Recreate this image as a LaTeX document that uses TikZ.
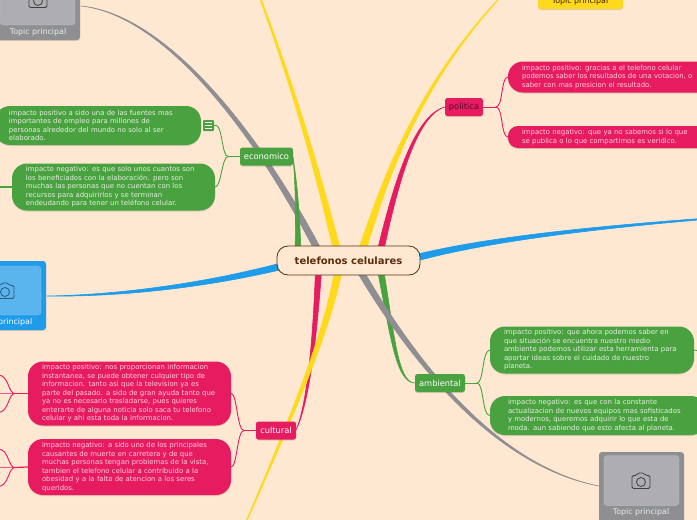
\documentclass[tikz,border=0pt]{standalone}
\usepackage{fontspec}
\setmainfont{DejaVu Sans}
\usetikzlibrary{calc,backgrounds}
\definecolor{bgc}{HTML}{FEE8D2}
\definecolor{gr}{HTML}{4AA13F}
\definecolor{pk}{HTML}{E71B5F}
\definecolor{ye}{HTML}{FFD91C}
\definecolor{bl}{HTML}{1E9BE9}
\definecolor{gy}{HTML}{8E8E93}
\definecolor{gyin}{HTML}{ADADB2}
\definecolor{blin}{HTML}{5AB4EE}
\definecolor{brn}{HTML}{5A2D0C}
\definecolor{grl}{HTML}{E4F1E2}
\definecolor{pkl}{HTML}{FFD0E0}
\definecolor{pkd}{HTML}{5A0A30}
\tikzset{
 shade1/.style={preaction={fill=black,opacity=.13,transform canvas={yshift=-1pt}}},
 mainb/.style={draw=brn,line width=.8pt,fill=bgc,rounded corners=11pt,minimum width=143pt,minimum height=29pt,font=\fontsize{10}{12}\selectfont\bfseries,text=brn,inner sep=0pt},
 sub/.style={shade1,rounded corners=2.5pt,fill=#1,minimum height=18pt,inner sep=0pt,font=\fontsize{8.3}{10}\selectfont,text=white},
 leaf/.style={shade1,rounded corners=15pt,fill=#1,inner ysep=0pt,align=left,font=\fontsize{6.9}{8.5}\selectfont},
 twig/.style={#1,line width=.9pt,line cap=round},
 topicb/.style={shade1,rounded corners=3pt,fill=#1},
 innerb/.style={rounded corners=3pt,fill=#1,draw=white,draw opacity=.15,line width=.6pt},
 toplab/.style={font=\fontsize{7.9}{10}\selectfont,inner sep=0pt},
 cam/.style={draw=#1,line width=.8pt,line join=round},
}
\newcommand{\taper}[6]{\draw[#1,fill=#1,line width=.6pt] ($(#2)+(#6)$) .. controls ($(#3)+0.667*(#6)$) and ($(#4)+0.333*(#6)$) .. (#5) .. controls ($(#4)-0.333*(#6)$) and ($(#3)-0.667*(#6)$) .. ($(#2)-(#6)$) -- cycle;}
\newcommand{\camera}[2]{\begin{scope}[shift={(#1)}]
 \draw[cam=#2,rounded corners=1.5pt] (-9,-5.5) -- (-4.5,-5.5) -- (-3,-8) -- (3,-8) -- (4.5,-5.5) -- (9,-5.5) -- (9,7.5) -- (-9,7.5) -- cycle;
 \draw[cam=#2] (0,1) circle (4.5);
 \end{scope}}
\begin{document}
\begin{tikzpicture}[x=1pt,y=-1pt]
\useasboundingbox (0,0) rectangle (697,520);
% topics
\node[topicb=gy,minimum width=85pt,minimum height=70pt,inner sep=0pt] (tga) at (37.5,5) {};
\node[innerb=gyin,minimum width=75pt,minimum height=50pt,inner sep=0pt] (tgai) at (37.5,0) {};
\node[toplab,text=grl] (tgal) at (38,32) {Topic principal};
\camera{38,0}{black!55!gy}
\node[topicb=bl,minimum width=85pt,minimum height=69pt,inner sep=0pt] (tb) at (3.5,295.5) {};
\node[innerb=blin,minimum width=75pt,minimum height=49pt,inner sep=0pt] (tbi) at (3.5,290.5) {};
\node[toplab,text=white] (tbl) at (4,322.5) {Topic principal};
\camera{5,291}{black!50!blin}
\node[topicb=gy,minimum width=85pt,minimum height=70pt,inner sep=0pt] (tgb) at (641.5,487) {};
\node[innerb=gyin,minimum width=75pt,minimum height=50pt,inner sep=0pt] (tgbi) at (641.5,480.5) {};
\node[toplab,text=grl] (tgbl) at (641,512) {Topic principal};
\camera{641,481}{black!55!gy}
\node[topicb=ye,minimum width=85pt,minimum height=70pt,inner sep=0pt] (ty) at (580.5,-26) {};
\node[toplab,text=brn!70!black] (tyl) at (580,1) {Topic principal};
% root
\node[mainb] (root) at (348.5,260.5) {telefonos celulares};
% sub
\node[sub=gr,minimum width=53pt] (eco) at (266.5,156.5) {economico};
\node[sub=pk,minimum width=40pt] (cul) at (276,430.5) {cultural};
\node[sub=pk,minimum width=38pt,text=pkd] (pol) at (464,107) {politica};
\node[sub=gr,minimum width=50pt] (amb) at (440,383) {ambiental};
% leaves
\node[leaf=gr,text=grl,text width=178pt,inner xsep=14pt,minimum height=39pt] (e1) at (98,125.5) {impacto positivo a sido una de las fuentes mas\\importantes de empleo para millones de\\personas alrededor del mundo no solo al ser\\elaborado.};
\node[fill=gr,rounded corners=1pt,minimum size=11pt,inner sep=0pt] (note) at (208.5,125.5) {};
\draw[white,line width=.7pt] (205,122.5) -- (212,122.5) (205,125.5) -- (212,125.5) (205,128.5) -- (212,128.5);
\node[leaf=gr,text=grl,text width=175pt,inner xsep=14pt,minimum height=47pt] (e2) at (113.5,187) {impacto negativo: es que solo unos cuantos son\\los beneficiados con la elaboración. pero son\\muchas las personas que no cuentan con los\\recursos para adquirirlos y se terminan\\endeudando para tener un teléfono celular.};
\node[leaf=pk,text=pkl,text width=175pt,inner xsep=14pt,minimum height=64pt] (c1) at (129.5,393.5) {impacto positivo: nos proporcionan informacion\\instantanea, se puede obtener culquier tipo de\\informacion. tanto asi que la television ya es\\parte del pasado. a sido de gran ayuda tanto que\\ya no es necesario trasladarse, pues quieres\\enterarte de alguna noticia solo saca tu telefono\\celular y ahi esta toda la informacion.};
\node[leaf=pk,text=pkl,text width=175pt,inner xsep=14pt,minimum height=56pt] (c2) at (129.5,467) {impacto negativo: a sido uno de los principales\\causantes de muerte en carretera y de que\\muchas personas tengan problemas de la vista,\\tambien el telefono celular a contribuido a la\\obesidad y a la falta de atencion a los seres\\queridos.};
\node[leaf=pk,text=pkl,text width=200pt,inner xsep=14pt,minimum height=31pt] (p1) at (622,77) {impacto positivo: gracias a el telefono celular\\podemos saber los resultados de una votacion, o\\saber con mas presicion el resultado.};
\node[leaf=pk,text=pkl,text width=200pt,inner xsep=14pt,minimum height=22pt,rounded corners=10pt] (p2) at (622,137) {impacto negativo: que ya no sabemos si lo que\\se publica o lo que compartimos es veridico.};
\node[leaf=gr,text=grl,text width=176pt,inner xsep=14pt,minimum height=47pt] (a1) at (592,350) {impacto positivo: que ahora podemos saber en\\que situación se encuentra nuestro medio\\ambiente podemos utilizar esta herramienta para\\aportar ideas sobre el cuidado de nuestro\\planeta.};
\node[leaf=gr,text=grl,text width=180pt,inner xsep=18pt,minimum height=39pt] (a2) at (598,415.5) {impacto negativo: es que con la constante\\actualizacion de nuevos equipos mas sofisticados\\y modernos, queremos adquirir lo que esta de\\moda. aun sabiendo que esto afecta al planeta.};
% connectors
\begin{pgfonlayer}{background}
\fill[bgc] (0,0) rectangle (697,520);
\coordinate (gaend) at (81,6);
\coordinate (gbend) at (599,486);
\coordinate (yaend) at (230,-80);
\coordinate (ybend) at (525,-28);
\coordinate (ycend) at (225,570);
\coordinate (bbend) at (47,296);
\coordinate (brend) at (800,212);
\coordinate (ecoe) at (293,157);
\coordinate (culr) at (296,430);
\coordinate (pole) at (445,107);
\coordinate (ambe) at (415,383);
\coordinate (s1) at (298,262);
\coordinate (s2) at (319,262);
\coordinate (s3) at (378,262);
\coordinate (s4) at (379,262);
\coordinate (s5) at (322,258);
\coordinate (s6) at (355,262);
\coordinate (s7) at (340,262);
\coordinate (s8) at (358,262);
\coordinate (s9) at (340,262);
\coordinate (s10) at (290,264);
\coordinate (s11) at (408,260);
\taper{gy}{s5}{265,145}{170,15}{gaend}{3,-1.5}
\taper{gr}{s1}{298,220}{297,190}{ecoe}{3.2,0}
\taper{pk}{s3}{395,185}{415,115}{pole}{3.2,0.8}
\taper{ye}{s7}{322,190}{295,80}{yaend}{3.8,-0.5}
\taper{ye}{s8}{380,200}{408,85}{ybend}{3.8,1.2}
\taper{gr}{s4}{392,330}{396,383}{ambe}{3.2,-0.3}
\taper{gy}{s6}{405,350}{490,465}{gbend}{3,-1.5}
\taper{pk}{s2}{316,320}{310,400}{culr}{3.2,0}
\taper{ye}{s9}{328,330}{300,400}{ycend}{3.8,1}
\taper{bl}{s10}{210,285}{120,296}{bbend}{0,3.5}
\taper{bl}{s11}{480,240}{600,225}{brend}{0,3.5}
\end{pgfonlayer}
% twigs
\coordinate (fe) at (228,156.5);
\coordinate (fc) at (244,430.5);
\coordinate (fp) at (496,107);
\coordinate (fa) at (477,383);
\draw[twig=gr] (eco.west) -- (fe);
\draw[twig=gr] (note.east) -- ++(2,0) .. controls +(6,0) and (222,156.5) .. (fe);
\draw[twig=gr] (e2.east) .. controls +(6,0) and (222,156.5) .. (fe);
\draw[twig=pk] (cul.west) -- (fc);
\draw[twig=pk] (c1.east) .. controls +(6,0) and (237,430.5) .. (fc);
\draw[twig=pk] (c2.east) .. controls +(6,0) and (237,430.5) .. (fc);
\draw[twig=pk] (pol.east) -- (fp);
\draw[twig=pk] (fp) .. controls (503,107) and (501,77) .. (p1.west);
\draw[twig=pk] (fp) .. controls (503,107) and (501,137) .. (p2.west);
\draw[twig=gr] (amb.east) -- (fa);
\draw[twig=gr] (fa) .. controls (484,383) and (482,350) .. (a1.west);
\draw[twig=gr] (fa) .. controls (484,383) and (482,416) .. (a2.west);
\coordinate (lc1) at (15,393.5);
\coordinate (lc2) at (15,467.5);
\draw[twig=pk,line width=1.2pt] (c1.west) -- (lc1);
\draw[twig=pk,line width=1.2pt] (c2.west) -- (lc2);
\coordinate (x1) at (-2,375);
\coordinate (x2) at (-2,393.5);
\coordinate (x3) at (-2,412.5);
\coordinate (x4) at (-2,449);
\coordinate (x5) at (-2,467.5);
\coordinate (x6) at (-2,486.5);
\draw[twig=pk] (lc1) .. controls (8,393.5) and (9,375) .. (x1);
\draw[twig=pk!70!bgc] (lc1) -- (x2);
\draw[twig=pk] (lc1) .. controls (8,393.5) and (9,412.5) .. (x3);
\draw[twig=pk] (lc2) .. controls (8,467.5) and (9,449) .. (x4);
\draw[twig=pk!70!bgc] (lc2) -- (x5);
\draw[twig=pk] (lc2) .. controls (8,467.5) and (9,486.5) .. (x6);
\coordinate (x7) at (-2,187);
\draw[twig=gr,line width=1.2pt] (e2.west) -- (x7);
\coordinate (x8) at (699,351);
\draw[twig=gr] (a1.east) -- (x8);
\end{tikzpicture}
\end{document}
